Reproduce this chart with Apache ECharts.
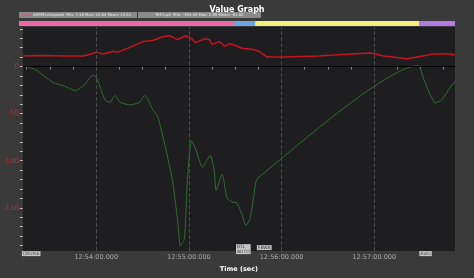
<!DOCTYPE html>
<html>
<head>
<meta charset="utf-8">
<script src="https://cdn.jsdelivr.net/npm/echarts@6/dist/echarts.min.js"></script>
<style>
  html, body { margin: 0; padding: 0; background: #3a3a3a; }
  #chart { width: 474px; height: 278px; }
</style>
</head>
<body>
<div id="chart"></div>
<script>
// time is seconds after 12:53:00
const airspeed = [
  [12.5, 11.2], [25, 11.6], [38.8, 11.2], [51.7, 11.2], [56.8, 13.3], [60, 15.3],
  [64.5, 13.3], [70.9, 16.3], [74.1, 15.3], [81.8, 20.4], [90.2, 26.5], [96.6, 27.6],
  [103, 31.6], [107.5, 32.7], [112.6, 28.6], [117.8, 32.7], [121, 30.6], [124.2, 25.5],
  [130.6, 29.6], [133.2, 28.6], [135.1, 23.5], [139.6, 26.5], [143.4, 21.4], [146.6, 24.5],
  [154.3, 19.4], [160.7, 18.4], [165.2, 16.3], [170.4, 10.2], [181.9, 10.2], [203.7, 11.2],
  [224.9, 13.3], [237.7, 14.3], [246.1, 11.2], [261.5, 8.2], [267.9, 10.2], [278.2, 13.3],
  [289.1, 13.3], [292.3, 12.3]
];
const tecsPitch = [
  [12.5, 0], [14.4, 0], [21.5, -4.1], [27.9, -12.2], [32.4, -17.3], [38.8, -20.4],
  [46.5, -25.5], [51.7, -20.4], [58.1, -9.2], [60, -11.2], [62.6, -22.4], [65.8, -35.7],
  [69.0, -37.8], [72.2, -30.6], [75.4, -37.8], [81.8, -40.8], [88.2, -37.8], [91.4, -30.6],
  [93.4, -34.7], [96.6, -45.9], [99.8, -53.1], [104.9, -86.7], [109.4, -121.4], [112.6, -162.2],
  [114.5, -190.8], [117.1, -182.7], [119.0, -121.4], [121.6, -78.6], [124.2, -86.7], [128.7, -107.1],
  [131.9, -99], [133.8, -93.9], [136.4, -111.2], [137.6, -131.6], [141.5, -114.3], [144.7, -139.8],
  [147.9, -143.9], [151.1, -144.9], [154.3, -157.1], [156.9, -168.4], [159.5, -162.2], [162.0, -137.8],
  [164.6, -118.4], [268.5, 1.0], [271.8, -12.2], [276.2, -29.6], [279.5, -38.8],
  [284.0, -34.7], [289.1, -22.4], [292.3, -15.3]
];
const modeNames = ['CRUISE', 'RTL\nAUTO', 'FBWA', 'Auto'];
const modeStarts = [12.5, 150.5, 164, 269.2];
const modeEnd = 292.3;
const modeColors = ['#ee6aa7', '#6ea6e4', '#f4f07c', '#b47ae4'];
const xLabelTicks = [60, 120, 180, 240];
const yLabelTicks = [0, -50, -100, -150];

const xMin = 12.5, xMax = 292.3;
const yMin = -196, yMax = 42;

const minorX = [];
for (let t = 15; t < xMax; t += 15) minorX.push(t);
const minorY = [];
for (let v = -190; v <= 40; v += 10) minorY.push(v);

const modeBars = modeStarts.map((s, i) => [s, i + 1 < modeStarts.length ? modeStarts[i + 1] : modeEnd, i]);
const modeLabelPos = [[-1, 0], [0, -7], [0, -6], [0, 0]];
const modeMarks = modeStarts.map((s, i) => ({
  value: [s, yMin],
  label: { position: modeLabelPos[i] }
}));

const fmtTime = v => {
  const m = 53 + Math.floor(v / 60);
  const s = Math.round(v % 60);
  return '12:' + m + ':' + String(s).padStart(2, '0') + '.000';
};

const chart = echarts.init(document.getElementById('chart'));
chart.setOption({
  backgroundColor: '#3a3a3a',
  animation: false,
  title: {
    text: 'Value Graph', left: 'center', top: 1,
    textStyle: { color: '#fff', fontSize: 8, fontWeight: 'bold', fontFamily: 'DejaVu Sans' }
  },
  graphic: [
    { type: 'rect', shape: { x: 19, y: 12, width: 118, height: 6 }, style: { fill: '#8a8a8a' } },
    { type: 'rect', shape: { x: 138, y: 12, width: 123, height: 6 }, style: { fill: '#8a8a8a' } },
    { type: 'line', shape: { x1: 21, y1: 15, x2: 31, y2: 15 }, style: { stroke: '#e04b86', lineWidth: 1 } },
    { type: 'text', x: 33, y: 13, style: { text: 'ARSPD.Airspeed  Min: 7.16 Max: 22.84 Mean: 15.51', fill: '#eee', fontSize: 3.8, fontFamily: 'DejaVu Sans' } },
    { type: 'text', x: 155, y: 13, style: { text: 'TECS.pit  Min: -193.44 Max: 1.93 Mean: -61.82', fill: '#eee', fontSize: 3.8, fontFamily: 'DejaVu Sans' } }
  ],
  grid: [
    { left: 19, right: 19, top: 27, bottom: 18, show: true, backgroundColor: '#1e1e20', borderWidth: 0 },
    { left: 19, right: 19, top: 21, height: 5, show: false }
  ],
  xAxis: [
    {
      type: 'value', min: xMin, max: xMax,
      axisLine: { show: false },
      splitLine: { show: false },
      axisTick: { customValues: minorX, length: 3, lineStyle: { color: '#888' } },
      axisLabel: {
        customValues: xLabelTicks, formatter: fmtTime, color: '#aaa', fontSize: 6.5, margin: 3,
        fontFamily: 'DejaVu Sans'
      },
      name: 'Time (sec)', nameLocation: 'middle', nameGap: 11,
      nameTextStyle: { color: '#fff', fontSize: 6.5, fontWeight: 'bold', fontFamily: 'DejaVu Sans' }
    },
    { type: 'value', gridIndex: 1, min: xMin, max: xMax, show: false }
  ],
  yAxis: [
    {
      type: 'value', min: yMin, max: yMax,
      axisLine: { show: false },
      splitLine: { show: false },
      axisTick: { customValues: minorY, length: 3, lineStyle: { color: '#bbb' } },
      axisLabel: {
        customValues: yLabelTicks, color: '#c8283c', fontSize: 7, margin: 4,
        fontFamily: 'DejaVu Sans'
      }
    },
    { type: 'value', gridIndex: 1, min: 0, max: 1, show: false }
  ],
  series: [
    {
      name: 'TECS.pit', type: 'line', data: tecsPitch, smooth: 0.2, showSymbol: false,
      lineStyle: { color: '#2f6e30', width: 1 },
      markLine: {
        silent: true, symbol: 'none', label: { show: false },
        lineStyle: { color: '#4a4a4c', type: 'dashed', width: 1 },
        data: xLabelTicks.map(t => ({ xAxis: t })).concat([
          { yAxis: 0, lineStyle: { color: '#000', type: 'solid', width: 1 } }
        ])
      },
      z: 3
    },
    {
      name: 'ARSPD.Airspeed', type: 'line', data: airspeed, showSymbol: false,
      lineStyle: { color: '#c8141e', width: 1.5 }, z: 4
    },
    {
      type: 'custom', xAxisIndex: 1, yAxisIndex: 1, data: modeBars,
      renderItem: (params, api) => {
        const s = api.coord([api.value(0), 1]);
        const e = api.coord([api.value(1), 0]);
        return {
          type: 'rect',
          shape: { x: s[0], y: s[1], width: e[0] - s[0], height: e[1] - s[1] },
          style: { fill: modeColors[api.value(2)] }
        };
      }
    },
    {
      type: 'scatter', data: modeMarks, symbolSize: 0, clip: false, z: 5,
      label: {
        show: true,
        formatter: p => modeNames[p.dataIndex],
        color: '#111', backgroundColor: '#eee', padding: [0, 1],
        fontSize: 4.5, lineHeight: 5, fontFamily: 'DejaVu Sans'
      }
    }
  ]
});
</script>
</body>
</html>
